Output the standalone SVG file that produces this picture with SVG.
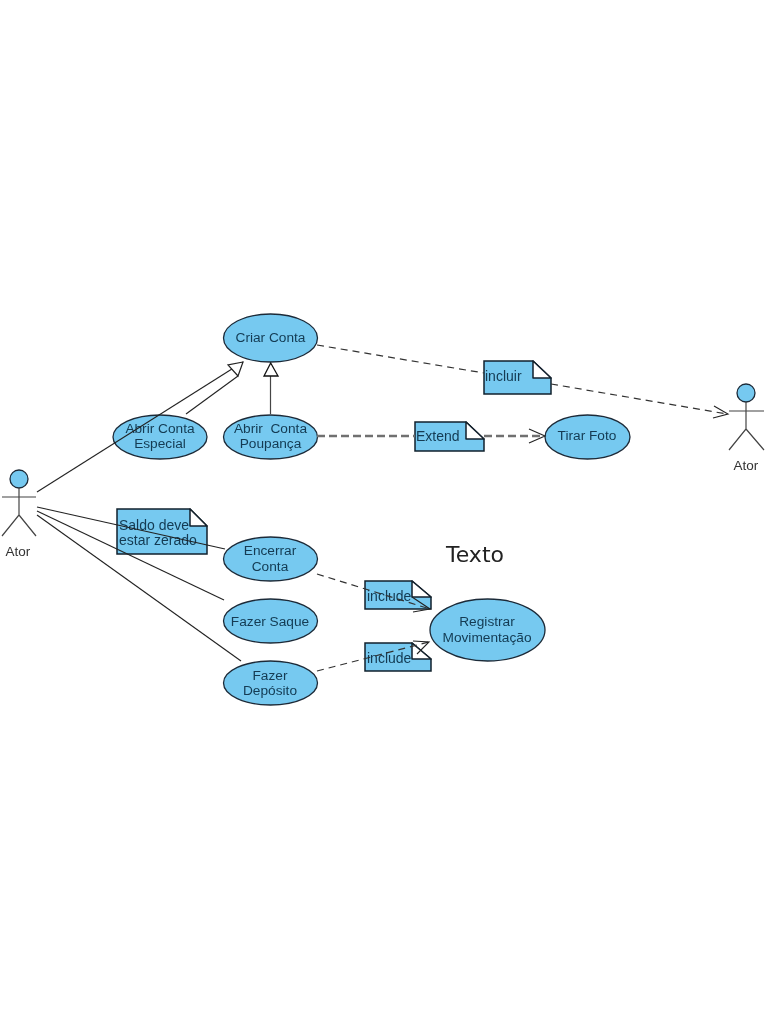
<svg xmlns="http://www.w3.org/2000/svg" width="768" height="1024" viewBox="0 0 768 1024">
<style>
.uc{fill:#76c9f0;stroke:#1c2a38;stroke-width:1.3}
.note{fill:#76c9f0;stroke:#12202c;stroke-width:1.5}
.fold{fill:#fff;stroke:#12202c;stroke-width:1.5;stroke-linejoin:round}
.t{font-family:"Liberation Sans",Arial,sans-serif;font-size:13.7px;fill:#123a52;text-anchor:middle}
.n{font-family:"Liberation Sans",Arial,sans-serif;font-size:14px;fill:#123a52}
.a{font-family:"Liberation Sans",Arial,sans-serif;font-size:13.5px;fill:#333;text-anchor:middle}
.l{stroke:#222;stroke-width:1.1;fill:none}
.d{stroke:#333;stroke-width:1.2;fill:none;stroke-dasharray:7 5}
.dg{stroke:#6f6f6f;stroke-width:2.6;fill:none;stroke-dasharray:8 4}
.s{stroke:#444;stroke-width:1.2;fill:none}
</style>
<defs><filter id="b" x="-2%" y="-2%" width="104%" height="104%"><feGaussianBlur stdDeviation="0.35"/></filter></defs>
<rect width="768" height="1024" fill="#fff"/>
<g filter="url(#b)">
<g id="criar"><ellipse class="uc" cx="270.5" cy="338" rx="47" ry="24"/><text class="t" x="270.5" y="342">Criar Conta</text></g>
<g id="especial"><ellipse class="uc" cx="160" cy="437" rx="47" ry="22"/><text class="t" x="160" y="433">Abrir Conta</text><text class="t" x="160" y="448">Especial</text></g>
<g id="poupanca"><ellipse class="uc" cx="270.5" cy="437" rx="47" ry="22"/><text class="t" x="270.5" y="433" xml:space="preserve">Abrir  Conta</text><text class="t" x="270.5" y="448">Poupança</text></g>
<g id="foto"><ellipse class="uc" cx="587.5" cy="437" rx="42.5" ry="22"/><text class="t" x="587" y="440">Tirar Foto</text></g>
<g id="encerrar"><ellipse class="uc" cx="270.5" cy="559" rx="47" ry="22"/><text class="t" x="270" y="555">Encerrar</text><text class="t" x="270" y="571">Conta</text></g>
<g id="saque"><ellipse class="uc" cx="270.5" cy="621" rx="47" ry="22"/><text class="t" x="270" y="626">Fazer Saque</text></g>
<g id="deposito"><ellipse class="uc" cx="270.5" cy="683" rx="47" ry="22"/><text class="t" x="270" y="680">Fazer</text><text class="t" x="270" y="695">Depósito</text></g>
<g id="registrar"><ellipse class="uc" cx="487.5" cy="630" rx="57.5" ry="31"/><text class="t" x="487" y="626">Registrar</text><text class="t" x="487" y="642">Movimentação</text></g>
<g id="note-incluir"><path class="note" d="M484 361H533L551 378V394H484Z"/><path class="fold" d="M533 361L551 378H533Z"/><text class="n" x="485" y="381">incluir</text></g>
<g id="note-extend"><path class="note" d="M415 422H466L484 439V451H415Z"/><path class="fold" d="M466 422L484 439H466Z"/><text class="n" x="416" y="441">Extend</text></g>
<g id="note-saldo"><path class="note" d="M117 509H190L207 526V554H117Z"/><path class="fold" d="M190 509L207 526H190Z"/><text class="n" x="119" y="530">Saldo deve</text><text class="n" x="119" y="545">estar zerado</text></g>
<g id="note-include1"><path class="note" d="M365 581H412L431 597V609H365Z"/><path class="fold" d="M412 581L431 597H412Z"/><text class="n" x="367" y="601">include</text></g>
<g id="note-include2"><path class="note" d="M365 643H412L431 659V671H365Z"/><path class="fold" d="M412 643L431 659H412Z"/><text class="n" x="367" y="663">include</text></g>
<g id="ator1"><circle class="uc" cx="19" cy="479" r="9"/><path class="s" d="M2 497H36M19 488V515L2 536M19 515L36 536"/><text class="a" x="18" y="556">Ator</text></g>
<g id="ator2"><circle class="uc" cx="746" cy="393" r="9"/><path class="s" d="M729 411H764M746 402V429L729 450M746 429L764 450"/><text class="a" x="746" y="470">Ator</text></g>
<g id="connectors">
<path class="l" d="M37 492L243 362"/>
<path class="l" d="M186 414L238 376"/>
<path d="M243 362L228 365L238 376Z" fill="#fff" stroke="#222" stroke-width="1.2"/>
<path class="s" d="M270.5 414V376"/>
<path d="M270.7 363L264 376H278Z" fill="#fff" stroke="#111" stroke-width="1.3"/>
<path class="d" d="M317 345L484 373"/>
<path class="d" d="M551 384L727 414"/>
<path class="l" d="M714 406L728 414L713 418"/>
<path class="dg" d="M317 436H415"/>
<path class="dg" d="M484 436H543"/>
<path class="l" d="M529 429L545 436L529 443"/>
<path class="l" d="M37 507L225 549"/>
<path class="l" d="M37 511L224 600"/>
<path class="l" d="M37 515L241 661"/>
<path class="d" d="M317 574L430 609"/>
<path class="l" d="M413 612L430 609L412 597"/>
<path class="d" d="M317 671L429 642"/>
<path class="l" d="M413 641L429 642L417 654"/>
</g>
<text x="475" y="562" font-family="'DejaVu Sans',sans-serif" font-size="22" fill="#222" text-anchor="middle">Texto</text>
</g>
</svg>
